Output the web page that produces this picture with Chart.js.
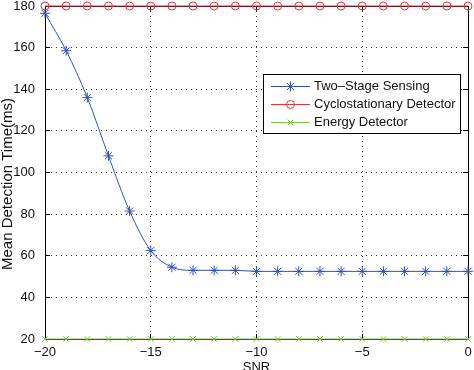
<!DOCTYPE html>
<html>
<head>
<meta charset="utf-8">
<script src="https://cdn.jsdelivr.net/npm/chart.js@4/dist/chart.umd.min.js"></script>
<style>
  body { margin: 0; background: #fff; }
  #wrap { width: 474px; height: 370px; }
</style>
</head>
<body>
<div id="wrap"><canvas id="myChart" width="474" height="370"></canvas></div>
<script>
const snr = [-20, -19, -18, -17, -16, -15, -14, -13, -12, -11, -10, -9, -8, -7, -6, -5, -4, -3, -2, -1, 0];
const twoStage = [176.5, 158.5, 136, 108, 81.5, 62.5, 54.5, 53, 53, 53, 52.5, 52.5, 52.5, 52.5, 52.5, 52.5, 52.5, 52.5, 52.5, 52.5, 52.5];
const cyclo = [180, 180, 180, 180, 180, 180, 180, 180, 180, 180, 180, 180, 180, 180, 180, 180, 180, 180, 180, 180, 180];
const energy = [20, 20, 20, 20, 20, 20, 20, 20, 20, 20, 20, 20, 20, 20, 20, 20, 20, 20, 20, 20, 20];
const xTicks = { min: -20, max: 0, step: 5 };
const yTicks = { min: 20, max: 180, step: 20 };
const yTitle = 'Mean Detection Time(ms)';
const xTitle = 'SNR';

const FONT = 'Liberation Sans, Arial, Helvetica, sans-serif';
const minus = (v) => String(v).replace('-', '\u2212');
const toPoints = (ys) => ys.map((y, i) => ({ x: snr[i], y }));

const noPad = (scale) => {
  scale.paddingTop = 0;
  scale.paddingBottom = 0;
  scale.paddingLeft = 0;
  scale.paddingRight = 0;
};

// legend drawn inside the plot, MATLAB style
const boxLegend = {
  id: 'boxLegend',
  afterDraw(chart) {
    const { ctx } = chart;
    const x0 = 263, y0 = 74, w = 197, h = 59;
    ctx.save();
    ctx.fillStyle = '#fff';
    ctx.fillRect(x0, y0, w, h);
    ctx.strokeStyle = '#000';
    ctx.lineWidth = 1;
    ctx.strokeRect(x0 + 0.5, y0 + 0.5, w, h);
    chart.data.datasets.forEach((ds, i) => {
      const y = 86 + i * 18;
      ctx.strokeStyle = ds.borderColor;
      ctx.lineWidth = 1;
      ctx.beginPath();
      ctx.moveTo(271, y + 0.5);
      ctx.lineTo(310, y + 0.5);
      ctx.stroke();
      ctx.fillStyle = 'rgba(0,0,0,0)';
      Chart.helpers.drawPoint(ctx, {
        pointStyle: ds.pointStyle,
        rotation: 0,
        radius: ds.pointRadius,
        borderWidth: 1
      }, 290.5, y + 0.5);
      ctx.fillStyle = '#111';
      ctx.font = '13px ' + FONT;
      ctx.textBaseline = 'middle';
      ctx.textAlign = 'left';
      ctx.fillText(ds.label, 314, y);
    });
    ctx.restore();
  }
};

const yAxisTitle = {
  id: 'yAxisTitle',
  afterDraw(chart) {
    const { ctx } = chart;
    ctx.save();
    ctx.translate(8, 184);
    ctx.rotate(-Math.PI / 2);
    ctx.fillStyle = '#111';
    ctx.font = '15px ' + FONT;
    ctx.textAlign = 'center';
    ctx.textBaseline = 'middle';
    ctx.fillText(yTitle, 0, 0);
    ctx.restore();
  }
};

new Chart(document.getElementById('myChart'), {
  type: 'line',
  data: {
    datasets: [
      {
        label: 'Two\u2013Stage Sensing',
        data: toPoints(twoStage),
        borderColor: '#3452b4',
        backgroundColor: 'rgba(0,0,0,0)',
        borderWidth: 1,
        pointStyle: 'star',
        pointRadius: 5,
        pointBorderWidth: 1,
        cubicInterpolationMode: 'monotone',
        clip: false
      },
      {
        label: 'Cyclostationary Detector',
        data: toPoints(cyclo),
        borderColor: '#e8333c',
        backgroundColor: 'rgba(0,0,0,0)',
        borderWidth: 1,
        pointStyle: 'circle',
        pointRadius: 4,
        pointBorderWidth: 1,
        clip: false
      },
      {
        label: 'Energy Detector',
        data: toPoints(energy),
        borderColor: '#7cc443',
        backgroundColor: 'rgba(0,0,0,0)',
        borderWidth: 1,
        pointStyle: 'crossRot',
        pointRadius: 4,
        pointBorderWidth: 1,
        clip: false
      }
    ]
  },
  options: {
    responsive: false,
    animation: false,
    layout: { padding: { top: 4, right: 5, bottom: 0, left: 0 } },
    plugins: {
      legend: { display: false },
      tooltip: { enabled: false }
    },
    scales: {
      x: {
        type: 'linear',
        position: 'bottom',
        min: xTicks.min,
        max: xTicks.max,
        ticks: {
          stepSize: xTicks.step,
          padding: 11,
          color: '#111',
          font: { family: FONT, size: 13 },
          maxRotation: 0,
          callback: minus
        },
        grid: { color: 'rgba(0,0,0,0.8)', tickLength: -5, tickColor: '#000', tickBorderDash: [] },
        border: { display: true, color: '#000', dash: [1, 4] },
        title: {
          display: true,
          text: xTitle,
          color: '#111',
          font: { family: FONT, size: 13, lineHeight: 1 },
          padding: { top: 0, bottom: -3.5 }
        },
        afterFit(scale) { scale.height = 31; noPad(scale); }
      },
      y: {
        type: 'linear',
        position: 'left',
        min: yTicks.min,
        max: yTicks.max,
        ticks: {
          stepSize: yTicks.step,
          padding: 15,
          color: '#111',
          font: { family: FONT, size: 13 },
          callback: minus
        },
        grid: { color: 'rgba(0,0,0,0.8)', tickLength: -5, tickColor: '#000', tickBorderDash: [] },
        border: { display: true, color: '#000', dash: [1, 4] },
        afterFit(scale) { scale.width = 45; noPad(scale); }
      },
      x2: {
        type: 'linear',
        position: 'top',
        min: xTicks.min,
        max: xTicks.max,
        ticks: { stepSize: xTicks.step, display: false },
        grid: { drawOnChartArea: false, tickLength: -5, tickColor: '#000' },
        border: { display: true, color: '#000' },
        afterFit(scale) { scale.height = 0; noPad(scale); }
      },
      y2: {
        type: 'linear',
        position: 'right',
        min: yTicks.min,
        max: yTicks.max,
        ticks: { stepSize: yTicks.step, display: false },
        grid: { drawOnChartArea: false, tickLength: -5, tickColor: '#000' },
        border: { display: true, color: '#000' },
        afterFit(scale) { scale.width = 0; noPad(scale); }
      }
    }
  },
  plugins: [boxLegend, yAxisTitle]
});
</script>
</body>
</html>
